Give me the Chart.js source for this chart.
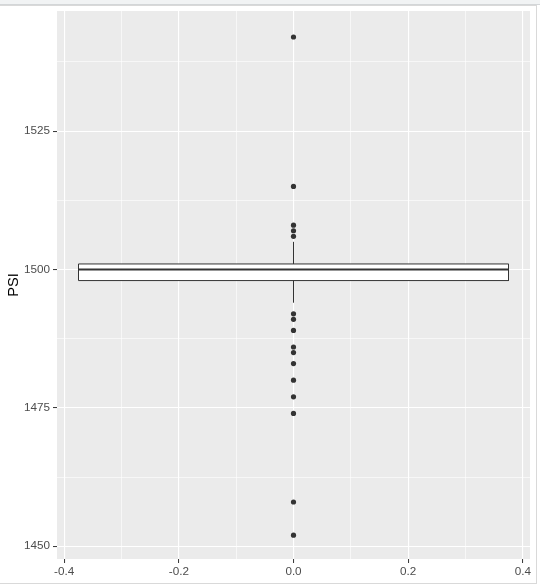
<!DOCTYPE html>
<html>
<head>
<meta charset="utf-8">
<script src="https://cdn.jsdelivr.net/npm/chart.js@4.4.0/dist/chart.umd.min.js"></script>
<style>
  html, body { margin: 0; padding: 0; background: #fff; }
  #wrap { position: relative; width: 540px; height: 587px; overflow: hidden; }
  #topbar { position: absolute; left: 0; top: 0; width: 540px; height: 4px; background: #f1f3f4; border-bottom: 1px solid #d3d6d8; }
  #frame { position: absolute; left: -1px; top: 5px; width: 536px; height: 577px; border: 1px solid #d9d9d9; }
  #holder { position: absolute; left: 0; top: 0; width: 540px; height: 587px; }
</style>
</head>
<body>
<div id="wrap">
  <div id="topbar"></div>
  <div id="frame"></div>
  <div id="holder"><canvas id="psi"></canvas></div>
</div>
<script>
// box statistics (PSI)
const boxLower = 1494;
const boxQ1 = 1498;
const boxMedian = 1500;
const boxQ3 = 1501;
const boxUpper = 1505;
const boxHalf = 0.375; // ggplot box width 0.75

// outliers, all drawn at x = 0
const outliers = [1542, 1515, 1508, 1507, 1506, 1492, 1491, 1489, 1486, 1485, 1483, 1480, 1477, 1474, 1458, 1452];

// ticks
const xMajor = [-0.4, -0.2, 0, 0.2, 0.4];
const xMinor = [-0.3, -0.1, 0.1, 0.3];
const yMajor = [1450, 1475, 1500, 1525];
const yMinor = [1462.5, 1487.5, 1512.5, 1537.5];

const panelBg = {
  id: "panelBg",
  beforeDraw(chart) {
    const a = chart.chartArea;
    const c = chart.ctx;
    c.save();
    c.fillStyle = "#EBEBEB";
    c.fillRect(a.left, a.top, a.right - a.left, a.bottom - a.top);
    c.restore();
  }
};

function isMajor(list, v) {
  return list.some(m => Math.abs(m - v) < 1e-9);
}

const dark = "#333333";

new Chart(document.getElementById("psi").getContext("2d"), {
  type: "scatter",
  data: {
    datasets: [
      {
        // box: left, top and right edges, filled white down to Q1 (drawn first)
        order: 10,
        data: [
          { x: -boxHalf, y: boxQ1 }, { x: -boxHalf, y: boxQ3 },
          { x: boxHalf, y: boxQ3 }, { x: boxHalf, y: boxQ1 }
        ],
        showLine: true,
        borderColor: dark,
        borderWidth: 1,
        backgroundColor: "#ffffff",
        fill: { value: boxQ1 },
        pointRadius: 0,
        tension: 0
      },
      {
        // box bottom edge
        order: 1,
        data: [{ x: -boxHalf, y: boxQ1 }, { x: boxHalf, y: boxQ1 }],
        showLine: true,
        borderColor: dark,
        borderWidth: 1,
        pointRadius: 0
      },
      {
        // median
        order: 1,
        data: [{ x: -boxHalf, y: boxMedian }, { x: boxHalf, y: boxMedian }],
        showLine: true,
        borderColor: dark,
        borderWidth: 2,
        pointRadius: 0
      },
      {
        // upper whisker
        order: 1,
        data: [{ x: 0, y: boxQ3 }, { x: 0, y: boxUpper }],
        showLine: true,
        borderColor: dark,
        borderWidth: 1,
        pointRadius: 0
      },
      {
        // lower whisker
        order: 1,
        data: [{ x: 0, y: boxLower }, { x: 0, y: boxQ1 }],
        showLine: true,
        borderColor: dark,
        borderWidth: 1,
        pointRadius: 0
      },
      {
        // outliers
        order: 0,
        data: outliers.map(v => ({ x: 0, y: v })),
        pointRadius: 2.6,
        pointBackgroundColor: dark,
        pointBorderWidth: 0
      }
    ]
  },
  options: {
    responsive: true,
    maintainAspectRatio: false,
    animation: false,
    layout: { padding: { top: 11, right: 10, left: 0, bottom: 0 } },
    plugins: { legend: { display: false }, tooltip: { enabled: false } },
    scales: {
      x: {
        type: "linear",
        min: -0.4125,
        max: 0.4125,
        afterBuildTicks(scale) {
          scale.ticks = xMajor.concat(xMinor).sort((a, b) => a - b).map(v => ({ value: v }));
        },
        afterFit(scale) { scale.height = 28; },
        border: { display: false },
        grid: {
          color: "#ffffff",
          lineWidth: ctx => isMajor(xMajor, ctx.tick.value) ? 1.1 : 0.6,
          tickColor: ctx => isMajor(xMajor, ctx.tick.value) ? dark : "rgba(0,0,0,0)",
          tickLength: 4,
          tickWidth: 1
        },
        ticks: {
          autoSkip: false,
          maxRotation: 0,
          padding: 2,
          color: "#4D4D4D",
          font: { family: "Arial, 'Liberation Sans', sans-serif", size: 11.7 },
          callback: v => isMajor(xMajor, v) ? Number(v).toFixed(1) : ""
        }
      },
      y: {
        type: "linear",
        min: 1447.7,
        max: 1546.7,
        afterBuildTicks(scale) {
          scale.ticks = yMajor.concat(yMinor).sort((a, b) => a - b).map(v => ({ value: v }));
        },
        afterFit(scale) { scale.width = 57; },
        border: { display: false },
        grid: {
          color: "#ffffff",
          lineWidth: ctx => isMajor(yMajor, ctx.tick.value) ? 1.1 : 0.6,
          tickColor: ctx => isMajor(yMajor, ctx.tick.value) ? dark : "rgba(0,0,0,0)",
          tickLength: 4,
          tickWidth: 1
        },
        ticks: {
          autoSkip: false,
          padding: 3,
          color: "#4D4D4D",
          font: { family: "Arial, 'Liberation Sans', sans-serif", size: 11.7 },
          callback: v => isMajor(yMajor, v) ? String(v) : ""
        },
        title: {
          display: true,
          text: "PSI",
          color: "#000000",
          padding: { top: 5, bottom: 0 },
          font: { family: "Arial, 'Liberation Sans', sans-serif", size: 14.7 }
        }
      }
    }
  },
  plugins: [panelBg]
});
</script>
</body>
</html>
